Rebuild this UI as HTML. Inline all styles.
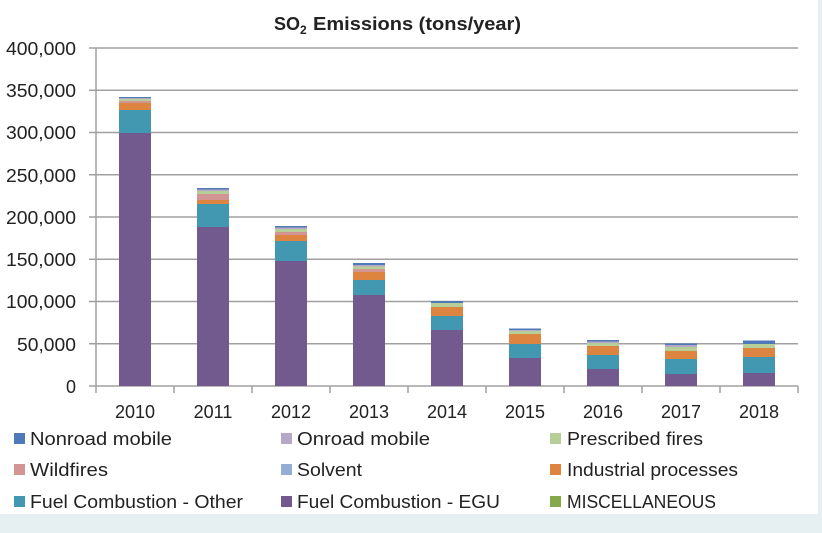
<!DOCTYPE html>
<html><head><meta charset="utf-8"><style>
html,body{margin:0;padding:0;background:#e6f0f2;}
svg{display:block;font-family:"Liberation Sans",sans-serif;}
</style></head><body>
<svg width="822" height="533" viewBox="0 0 822 533" xmlns="http://www.w3.org/2000/svg">
<rect x="0" y="0" width="822" height="533" fill="#e6f0f2"/>
<rect x="0" y="0" width="818" height="514" fill="#ffffff"/>
<g font-size="18" font-weight="bold" fill="#222">
<text x="274" y="30">SO</text>
<text x="300" y="34" font-size="12">2</text>
<text x="313" y="30" textLength="208" lengthAdjust="spacingAndGlyphs">Emissions (tons/year)</text>
</g>
<g stroke="#a0a0a0" stroke-width="1.5">
<line x1="89" y1="48" x2="798" y2="48"/>
<line x1="89" y1="90.25" x2="798" y2="90.25"/>
<line x1="89" y1="132.5" x2="798" y2="132.5"/>
<line x1="89" y1="174.75" x2="798" y2="174.75"/>
<line x1="89" y1="217" x2="798" y2="217"/>
<line x1="89" y1="259.25" x2="798" y2="259.25"/>
<line x1="89" y1="301.5" x2="798" y2="301.5"/>
<line x1="89" y1="343.75" x2="798" y2="343.75"/>
<line x1="89" y1="386" x2="798" y2="386"/>
<line x1="96" y1="48" x2="96" y2="393"/>
<line x1="174" y1="386" x2="174" y2="393"/><line x1="252" y1="386" x2="252" y2="393"/>
<line x1="330" y1="386" x2="330" y2="393"/><line x1="408" y1="386" x2="408" y2="393"/>
<line x1="486" y1="386" x2="486" y2="393"/><line x1="564" y1="386" x2="564" y2="393"/>
<line x1="642" y1="386" x2="642" y2="393"/><line x1="720" y1="386" x2="720" y2="393"/>
<line x1="798" y1="386" x2="798" y2="393"/>
</g>
<g font-size="18" fill="#222" text-anchor="end">
<text x="76" y="55" textLength="70" lengthAdjust="spacingAndGlyphs">400,000</text>
<text x="76" y="97" textLength="70" lengthAdjust="spacingAndGlyphs">350,000</text>
<text x="76" y="139" textLength="70" lengthAdjust="spacingAndGlyphs">300,000</text>
<text x="76" y="182" textLength="70" lengthAdjust="spacingAndGlyphs">250,000</text>
<text x="76" y="224" textLength="70" lengthAdjust="spacingAndGlyphs">200,000</text>
<text x="76" y="266" textLength="70" lengthAdjust="spacingAndGlyphs">150,000</text>
<text x="76" y="308" textLength="70" lengthAdjust="spacingAndGlyphs">100,000</text>
<text x="76" y="351" textLength="59" lengthAdjust="spacingAndGlyphs">50,000</text>
<text x="76" y="393">0</text>
</g>
<g font-size="18" fill="#222" text-anchor="middle">
<text x="135" y="418">2010</text><text x="213" y="418">2011</text><text x="291" y="418">2012</text>
<text x="369" y="418">2013</text><text x="447" y="418">2014</text><text x="525" y="418">2015</text>
<text x="603" y="418">2016</text><text x="681" y="418">2017</text><text x="759" y="418">2018</text>
</g>
<g id="bars">
<rect x="119" y="133" width="32" height="253" fill="#725a8f"/><rect x="119" y="110" width="32" height="23" fill="#4298b0"/>
<rect x="119" y="103" width="32" height="7" fill="#dd8540"/><rect x="119" y="101" width="32" height="2" fill="#d39593"/>
<rect x="119" y="99" width="32" height="2" fill="#b6cf98"/><rect x="119" y="98" width="32" height="1" fill="#b5a8c7"/>
<rect x="119" y="97" width="32" height="1" fill="#4f79b8"/>
<rect x="197" y="227" width="32" height="159" fill="#725a8f"/><rect x="197" y="204" width="32" height="23" fill="#4298b0"/>
<rect x="197" y="200" width="32" height="4" fill="#dd8540"/><rect x="197" y="194" width="32" height="6" fill="#d39593"/>
<rect x="197" y="191" width="32" height="3" fill="#b6cf98"/><rect x="197" y="189" width="32" height="2" fill="#b5a8c7"/>
<rect x="197" y="188" width="32" height="1.5" fill="#4f79b8"/>
<rect x="275" y="261" width="32" height="125" fill="#725a8f"/><rect x="275" y="241" width="32" height="20" fill="#4298b0"/>
<rect x="275" y="235" width="32" height="6" fill="#dd8540"/><rect x="275" y="232" width="32" height="3" fill="#d39593"/>
<rect x="275" y="229" width="32" height="3" fill="#b6cf98"/><rect x="275" y="227.5" width="32" height="1.5" fill="#b5a8c7"/>
<rect x="275" y="226" width="32" height="1.5" fill="#4f79b8"/>
<rect x="353" y="295" width="32" height="91" fill="#725a8f"/><rect x="353" y="280" width="32" height="15" fill="#4298b0"/>
<rect x="353" y="272" width="32" height="8" fill="#dd8540"/><rect x="353" y="269" width="32" height="3" fill="#d39593"/>
<rect x="353" y="266.5" width="32" height="2.5" fill="#b6cf98"/><rect x="353" y="265" width="32" height="1.5" fill="#b5a8c7"/>
<rect x="353" y="263" width="32" height="2" fill="#4f79b8"/>
<rect x="431" y="330" width="32" height="56" fill="#725a8f"/><rect x="431" y="316" width="32" height="14" fill="#4298b0"/>
<rect x="431" y="307" width="32" height="9" fill="#dd8540"/><rect x="431" y="303" width="32" height="4" fill="#b6cf98"/>
<rect x="431" y="301" width="32" height="2" fill="#4f79b8"/>
<rect x="509" y="358" width="32" height="28" fill="#725a8f"/><rect x="509" y="344" width="32" height="14" fill="#4298b0"/>
<rect x="509" y="334" width="32" height="10" fill="#dd8540"/><rect x="509" y="331" width="32" height="3" fill="#b6cf98"/>
<rect x="509" y="330" width="32" height="1" fill="#b5a8c7"/><rect x="509" y="328.5" width="32" height="1.5" fill="#4f79b8"/>
<rect x="587" y="369" width="32" height="17" fill="#725a8f"/><rect x="587" y="355" width="32" height="14" fill="#4298b0"/>
<rect x="587" y="346" width="32" height="9" fill="#dd8540"/><rect x="587" y="343" width="32" height="3" fill="#b6cf98"/>
<rect x="587" y="341.5" width="32" height="1.5" fill="#b5a8c7"/><rect x="587" y="340" width="32" height="1.5" fill="#4f79b8"/>
<rect x="665" y="374" width="32" height="12" fill="#725a8f"/><rect x="665" y="359" width="32" height="15" fill="#4298b0"/>
<rect x="665" y="351" width="32" height="8" fill="#dd8540"/><rect x="665" y="347" width="32" height="4" fill="#b6cf98"/>
<rect x="665" y="345" width="32" height="2" fill="#b5a8c7"/><rect x="665" y="343.5" width="32" height="1.5" fill="#4f79b8"/>
<rect x="743" y="373" width="32" height="13" fill="#725a8f"/><rect x="743" y="357" width="32" height="16" fill="#4298b0"/>
<rect x="743" y="348" width="32" height="9" fill="#dd8540"/><rect x="743" y="344" width="32" height="4" fill="#b6cf98"/>
<rect x="743" y="340.5" width="32" height="3.5" fill="#4f79b8"/>
</g>
<g font-size="18" fill="#222">
<rect x="14" y="433" width="11" height="11" fill="#4f79b8"/><text x="30" y="445" textLength="142" lengthAdjust="spacingAndGlyphs">Nonroad mobile</text>
<rect x="281" y="433" width="11" height="11" fill="#b5a8c7"/><text x="297" y="445" textLength="133" lengthAdjust="spacingAndGlyphs">Onroad mobile</text>
<rect x="550" y="433" width="11" height="11" fill="#b6cf98"/><text x="567" y="445" textLength="136" lengthAdjust="spacingAndGlyphs">Prescribed fires</text>
<rect x="14" y="464" width="11" height="11" fill="#d39593"/><text x="30" y="476" textLength="78" lengthAdjust="spacingAndGlyphs">Wildfires</text>
<rect x="281" y="464" width="11" height="11" fill="#94acd6"/><text x="297" y="476" textLength="65" lengthAdjust="spacingAndGlyphs">Solvent</text>
<rect x="550" y="464" width="11" height="11" fill="#dd8540"/><text x="567" y="476" textLength="171" lengthAdjust="spacingAndGlyphs">Industrial processes</text>
<rect x="14" y="496" width="11" height="11" fill="#4298b0"/><text x="30" y="508" textLength="213" lengthAdjust="spacingAndGlyphs">Fuel Combustion - Other</text>
<rect x="281" y="496" width="11" height="11" fill="#725a8f"/><text x="297" y="508" textLength="203" lengthAdjust="spacingAndGlyphs">Fuel Combustion - EGU</text>
<rect x="550" y="496" width="11" height="11" fill="#84a84a"/><text x="567" y="508" textLength="149" lengthAdjust="spacingAndGlyphs">MISCELLANEOUS</text>
</g>
</svg>
</body></html>
